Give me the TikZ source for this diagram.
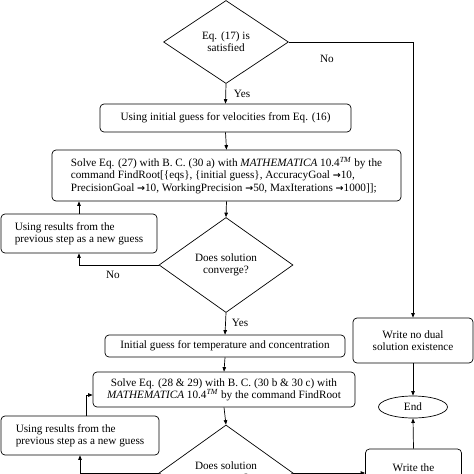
\documentclass[tikz,border=0pt]{standalone}
\usepackage{fontspec}
\setmainfont{Liberation Serif}
\newfontfamily\arrfont{DejaVu Sans}
\newcommand{\goalarr}{{\arrfont\bfseries\fontsize{9.5}{12}\selectfont →}}
\usetikzlibrary{arrows.meta,shapes.geometric}

\begin{document}
\begin{tikzpicture}[x=1pt,y=-1pt,
  every node/.style={font=\fontsize{11.2}{12.2}\selectfont},
  box/.style={draw,rounded corners=4pt,line width=0.7pt,inner sep=0pt,align=center},
  decision/.style={draw,diamond,line width=0.7pt,inner sep=0pt,align=center},
  arr/.style={line width=0.7pt,-{Triangle[length=4.5pt,width=3.5pt]}}]
\useasboundingbox (0,0) rectangle (474,474);
\clip (0,0) rectangle (474,474);
% first loop: velocities
\node[decision,minimum width=125pt,minimum height=83pt] (eqsat) at (226,42){Eq. (17) is\\satisfied};
\node[box,minimum width=251pt,minimum height=28pt] (guessvel) at (225.5,118){Using initial guess for velocities from Eq. (16)};
\node[box,minimum width=349pt,minimum height=51pt,align=left] (solvevel) at (226.5,175.5){Solve Eq. (27) with B. C. (30 a) with \textit{MATHEMATICA} 10.4\textsuperscript{\textit{TM}} by the\\command FindRoot[\{eqs\}, \{initial guess\}, AccuracyGoal \goalarr10,\\PrecisionGoal \goalarr10, WorkingPrecision \goalarr50, MaxIterations \goalarr1000]];};
\node[decision,minimum width=134pt,minimum height=95pt] (convvel) at (226,265){Does solution\\converge?};
\node[box,minimum width=156pt,minimum height=39pt,align=left] (newvel) at (79,233.5){Using results from the\\previous step as a new guess};
% second loop: temperature and concentration
\node[box,minimum width=240pt,minimum height=22pt] (guesstc) at (225,346){Initial guess for temperature and concentration};
\node[box,minimum width=262pt,minimum height=35pt] (solvetc) at (224,389.5){Solve Eq. (28 \& 29) with B. C. (30 b \& 30 c) with\\\textit{MATHEMATICA} 10.4\textsuperscript{\textit{TM}} by the command FindRoot};
\node[decision,minimum width=134pt,minimum height=96pt] (convtc) at (226,473){Does solution\\converge?};
\node[box,minimum width=158pt,minimum height=39pt,align=left] (newtc) at (80,435.5){Using results from the\\previous step as a new guess};
% right column
\node[box,minimum width=120pt,minimum height=45pt] (nodual) at (413,340.5){Write no dual\\solution existence};
\node[draw,ellipse,line width=0.7pt,inner sep=0pt,minimum width=69pt,minimum height=22pt] (finish) at (413,407){End};
\node[box,minimum width=96pt,minimum height=50pt] (dual) at (413.5,474){Write the\\dual solution};
% labels
\node (yes1) at (242,94){Yes};
\node (no1) at (327,59){No};
\node (no2) at (113,275){No};
\node (yes2) at (240,323){Yes};
% connectors
\draw[arr] (eqsat.south) -- (guessvel.north);
\draw[arr] (eqsat.east) -| (nodual.north);
\draw[arr] (guessvel.south) -- (solvevel.north);
\draw[arr] (solvevel.south) -- (convvel.north);
\draw[arr] (convvel.west) -| (newvel.south);
\draw[arr] (newvel.north) -- (newvel.north |- solvevel.south);
\draw[arr] (convvel.south) -- (guesstc.north);
\draw[arr] (guesstc.south) -- (solvetc.north);
\draw[arr] (solvetc.south) -- (convtc.north);
\draw[arr] (convtc.west) -| (newtc.south);
\draw[arr] ([xshift=6pt]newtc.north) |- ([yshift=-5.5pt]solvetc.west);
\draw[arr] (convtc.east) -- (dual.west |- convtc.east);
\draw[arr] (nodual.south) -- (finish.north);
\draw[arr] (dual.north) -- (finish.south);
\end{tikzpicture}
\end{document}
